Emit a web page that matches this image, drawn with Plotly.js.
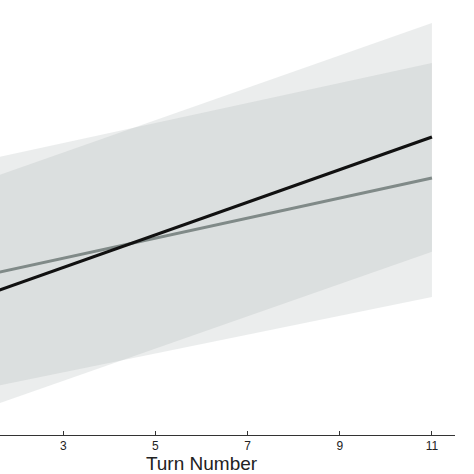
<!DOCTYPE html>
<html>
<head>
<meta charset="utf-8">
<script src="https://cdn.plot.ly/plotly-3.0.1.min.js"></script>
<style>
  html, body { margin: 0; padding: 0; overflow: hidden; background: #fff; width: 474px; height: 474px; }
  #chart { position: absolute; left: -52px; top: 0; }
</style>
</head>
<body>
<div id="chart"></div>
<script>
// Turn numbers at the ends of each fitted line
const turns = [1, 11];
// Fitted values (arbitrary y scale, no y axis shown)
const blackFit = [31.0, 68.5];
const grayFit = [36.0, 59.1];
// Confidence bands
const blackLo = [5.0, 42.1];
const blackHi = [57.5, 94.7];
const grayLo = [10.1, 31.7];
const grayHi = [62.5, 85.5];
// Tick labels
const tickVals = [3, 5, 7, 9, 11];
const tickText = ['3', '5', '7', '9', '11'];

const bandFill = 'rgba(160,170,170,0.21)';
const traces = [
  {x: turns, y: blackLo, mode: 'lines', line: {width: 0}, hoverinfo: 'skip', showlegend: false},
  {x: turns, y: blackHi, mode: 'lines', line: {width: 0}, fill: 'tonexty', fillcolor: bandFill, hoverinfo: 'skip', showlegend: false},
  {x: turns, y: grayLo, mode: 'lines', line: {width: 0}, hoverinfo: 'skip', showlegend: false},
  {x: turns, y: grayHi, mode: 'lines', line: {width: 0}, fill: 'tonexty', fillcolor: bandFill, hoverinfo: 'skip', showlegend: false},
  {x: turns, y: grayFit, mode: 'lines', line: {color: 'rgb(128,138,136)', width: 3}, showlegend: false},
  {x: turns, y: blackFit, mode: 'lines', line: {color: '#111111', width: 3.2}, showlegend: false}
];

const layout = {
  width: 526,
  height: 474,
  margin: {l: 0, r: 19, t: 0, b: 39},
  paper_bgcolor: '#ffffff',
  plot_bgcolor: '#ffffff',
  showlegend: false,
  font: {family: 'Liberation Sans, Arial, sans-serif', color: '#222'},
  xaxis: {
    range: [0.5, 11.5],
    tickvals: tickVals,
    ticktext: tickText,
    ticks: 'inside',
    ticklen: 4,
    tickwidth: 1,
    tickcolor: '#333',
    showline: true,
    linecolor: '#333',
    linewidth: 1,
    showgrid: false,
    zeroline: false,
    tickfont: {size: 12, color: '#222'},
    title: {text: 'Turn Number', font: {size: 19, color: '#222'}, standoff: 6}
  },
  yaxis: {
    range: [0, 100],
    visible: false,
    showgrid: false,
    zeroline: false
  }
};

Plotly.newPlot('chart', traces, layout, {displayModeBar: false, staticPlot: true});
</script>
</body>
</html>
